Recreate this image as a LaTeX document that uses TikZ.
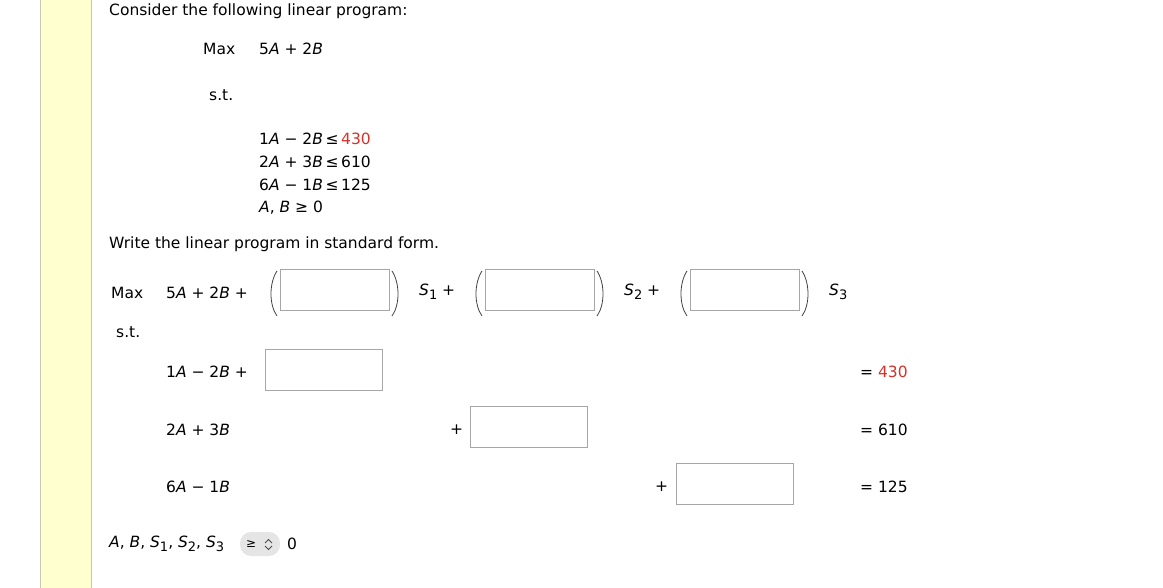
\documentclass[tikz,border=0pt]{standalone}
\usepackage{fontspec}
\setmainfont{DejaVu Sans}
\definecolor{redv}{RGB}{214,48,39}
\definecolor{yel}{RGB}{255,255,208}
\definecolor{edge}{RGB}{200,200,180}
\newcommand{\lt}[1]{\textit{#1}}
\newcommand{\sbs}[1]{\raisebox{-0.45ex}{\fontsize{13}{14}\selectfont #1}}
\begin{document}
\begin{tikzpicture}[x=1pt,y=-1pt,
  t/.style={anchor=west,inner sep=0pt,font=\fontsize{15.5}{17}\selectfont},
  inbox/.style={draw=gray!70,line width=0.9pt,inner sep=0pt},
  par/.style={draw=black!75,line width=0.8pt}]
\useasboundingbox (0,0) rectangle (1163,588);
\fill[yel] (40,0) rectangle (91,588);
\draw[edge] (40,0)--(40,588) (91,0)--(91,588);
\node[t] (c) at (109,11) {Consider the following linear program:};
\node[t] (m1) at (203,49) {Max};
\node[t] (o1) at (259,49) {5\lt{A} + 2\lt{B}};
\node[t] (st1) at (209,95) {s.t.};
\node[t] (r1) at (259,139) {1\lt{A} − 2\lt{B}\,≤\,\textcolor{redv}{430}};
\node[t] (r2) at (259,162) {2\lt{A} + 3\lt{B}\,≤\,610};
\node[t] (r3) at (259,185) {6\lt{A} − 1\lt{B}\,≤\,125};
\node[t] (r4) at (259,208) {\lt{A}, \lt{B} ≥ 0};
\node[t] (w) at (109,244) {Write the linear program in standard form.};
\node[t] (m2) at (111,293) {Max};
\node[t] (o2) at (166,293) {5\lt{A} + 2\lt{B} +};
\foreach \i/\x/\lab in {1/270/{\lt{S}\sbs{1} +},2/475/{\lt{S}\sbs{2} +},3/680/{\lt{S}\sbs{3}}}{
  \draw[par] (\x+7,271) .. controls (\x-1,283) and (\x-1,305) .. (\x+7,316);
  \node[inbox,minimum width=109pt,minimum height=41pt,anchor=north west] (b\i) at (\x+10,269) {};
  \draw[par] (\x+122,271) .. controls (\x+130,283) and (\x+130,305) .. (\x+122,316);
  \node[t] (s\i) at (\x+149,292) {\lab};
}
\node[t] (st2) at (116,332) {s.t.};
\node[t] (e1) at (166,372) {1\lt{A} − 2\lt{B} +};
\node[inbox,minimum width=117pt,minimum height=41pt,anchor=north west] (x1) at (265,349) {};
\node[t] (q1) at (860,372) {= \textcolor{redv}{430}};
\node[t] (e2) at (166,430) {2\lt{A} + 3\lt{B}};
\node[t] (p2) at (450,430) {+};
\node[inbox,minimum width=117pt,minimum height=41pt,anchor=north west] (x2) at (470,406) {};
\node[t] (q2) at (860,430) {= 610};
\node[t] (e3) at (166,487) {6\lt{A} − 1\lt{B}};
\node[t] (p3) at (655,487) {+};
\node[inbox,minimum width=117pt,minimum height=41pt,anchor=north west] (x3) at (676,463) {};
\node[t] (q3) at (860,487) {= 125};
\node[t] (nn) at (109,544) {\lt{A}, \lt{B}, \lt{S}\sbs{1}, \lt{S}\sbs{2}, \lt{S}\sbs{3}};
\node[fill=black!10,rounded corners=11pt,minimum width=40pt,minimum height=24pt,inner sep=0pt] (sel) at (260,544) {};
\node[t,font=\fontsize{12}{13}\selectfont] (ge) at (246,544) {≥};
\draw[black!70,line width=0.9pt] (265,543)--(268.5,539.5)--(272,543) (265,546)--(268.5,549.5)--(272,546);
\node[t] (z) at (287,544) {0};
\end{tikzpicture}
\end{document}
